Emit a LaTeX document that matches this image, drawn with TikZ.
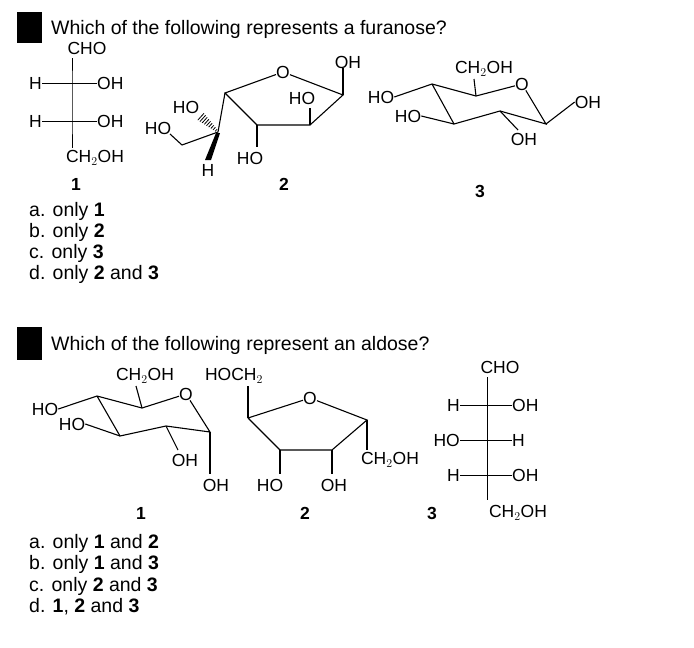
\documentclass[tikz,border=0pt]{standalone}
\usepackage{fontspec}
\setmainfont{Liberation Sans}
\usetikzlibrary{calc}
\begin{document}
\begin{tikzpicture}[x=1pt,y=-1pt,
  lab/.style={inner sep=0pt,font=\fontsize{17.5}{17.5}\selectfont},
  num/.style={inner sep=0pt,font=\fontsize{17.5}{17.5}\selectfont\bfseries},
  txt/.style={inner sep=0pt,anchor=west,font=\fontsize{19.5}{20}\selectfont},
  bond/.style={line width=1.1pt},
  fbond/.style={line width=1pt}]
\useasboundingbox (0,0) rectangle (694,648);
% ---------- Question 1 ----------
\fill (17,12) rectangle (42,43);
\node[txt] (q1) at (51,29) {Which of the following represents a furanose?};
% Fischer 1
\node[lab] (f1cho) at (87,48) {CHO};
\coordinate (f1a) at (72,83); \coordinate (f1b) at (72,121);
\node[lab,anchor=east] (f1h1) at (42,83) {H};
\node[lab,anchor=west] (f1oh1) at (97,83) {OH};
\node[lab,anchor=east] (f1h2) at (42,121) {H};
\node[lab,anchor=west] (f1oh2) at (97,121) {OH};
\node[lab] (f1ch) at (95,158) {CH$_2$OH};
\draw[fbond] (72,58) -- (f1a) -- (f1b) -- (72,148);
\draw[fbond] (f1h1.east) -- (f1oh1.west);
\draw[fbond] (f1h2.east) -- (f1oh2.west);
\node[num] (n11) at (76,184) {1};
% Furanose 2
\node[lab] (r2O) at (283,72) {O};
\coordinate (r2c4) at (225,93); \coordinate (r2c1) at (343,95);
\coordinate (r2c2) at (310,125); \coordinate (r2c3) at (257,125);
\coordinate (r2c5) at (218,132); \coordinate (r2c6) at (182,145);
\draw[bond] (r2O) -- (r2c4) -- (r2c3) -- (r2c2) -- (r2c1) -- (r2O);
\node[lab] (r2oh1) at (348,62) {OH};
\draw[bond] (r2c1) -- (r2oh1.south -| r2c1);
\node[lab] (r2ho2) at (302,98) {HO};
\draw[bond] (r2c2) -- (310,108);
\node[lab] (r2ho3) at (250,158) {HO};
\draw[bond] (r2c3) -- (257,147);
\draw[bond] (r2c4) -- (r2c5) -- (r2c6);
\node[lab] (r2ho4) at (186,107) {HO};
\node[lab] (r2ho5) at (158,128) {HO};
\draw[bond] (r2c6) -- (170,134);
\foreach \t in {0.1,0.2,...,0.95}
  \draw[line width=0.8pt] ($(218,132)!\t!(199,115)+({0.67*(1+4*\t)},{-0.74*(1+4*\t)})$) -- ($(218,132)!\t!(199,115)-({0.67*(1+4*\t)},{-0.74*(1+4*\t)})$);
\fill (216,133) -- (220,133) -- (211,160) -- (205,160) -- cycle;
\node[lab] (r2h) at (208,170) {H};
\node[num] (n12) at (284,184) {2};
% Pyranose 3
\coordinate (p3c4) at (432,84); \coordinate (p3c5) at (476,96);
\node[lab] (p3O) at (522,84) {O};
\coordinate (p3c1) at (546,124); \coordinate (p3c2) at (500,111); \coordinate (p3c3) at (454,124);
\draw[bond] (p3c4) -- (p3c5) -- (p3O) -- (p3c1) -- (p3c2) -- (p3c3) -- (p3c4);
\node[lab] (p3ch) at (484,69) {CH$_2$OH};
\draw[bond] (p3c5) -- (474,79);
\node[lab] (p3ho1) at (381,97) {HO};
\draw[bond] (p3c4) -- (p3ho1.east);
\node[lab] (p3ho2) at (408,116) {HO};
\draw[bond] (p3c3) -- (p3ho2.east);
\node[lab] (p3oh1) at (588,102) {OH};
\draw[bond] (p3c1) -- (p3oh1.west);
\node[lab] (p3oh2) at (524,139) {OH};
\draw[bond] (p3c2) -- (518,130);
\node[num] (n13) at (480,191) {3};
% answers 1
\node[txt] (a1) at (29,211) {a. only \textbf{1}};
\node[txt] (b1) at (29,232) {b. only \textbf{2}};
\node[txt] (c1) at (29,253) {c. only \textbf{3}};
\node[txt] (d1) at (29,274) {d. only \textbf{2} and \textbf{3}};
% ---------- Question 2 ----------
\fill (17,327) rectangle (42,360);
\node[txt] (q2) at (51,345) {Which of the following represent an aldose?};
% Pyranose 1
\coordinate (s1c4) at (97,396); \coordinate (s1c5) at (142,408);
\node[lab] (s1O) at (186,394) {O};
\coordinate (s1c1) at (210,432); \coordinate (s1c2) at (166,426); \coordinate (s1c3) at (120,436);
\draw[bond] (s1c4) -- (s1c5) -- (s1O) -- (s1c1) -- (s1c2) -- (s1c3) -- (s1c4);
\node[lab] (s1ch) at (145,376) {CH$_2$OH};
\draw[bond] (s1c5) -- (136,386);
\node[lab] (s1ho1) at (45,409) {HO};
\draw[bond] (s1c4) -- (s1ho1.east);
\node[lab] (s1ho2) at (72,424) {HO};
\draw[bond] (s1c3) -- (s1ho2.east);
\node[lab] (s1oh1) at (185,460) {OH};
\draw[bond] (s1c2) -- (178,450);
\node[lab] (s1oh2) at (216,485) {OH};
\draw[bond] (s1c1) -- (210,474);
\node[num] (n21) at (141,513) {1};
% Furanose 2
\node[lab] (s2hoch) at (234,376) {HOCH$_2$};
\coordinate (s2a) at (248,418); \node[lab] (s2O) at (310,398) {O};
\coordinate (s2b) at (367,420); \coordinate (s2c) at (332,450); \coordinate (s2d) at (280,450);
\draw[bond] (s2a) -- (s2O) -- (s2b) -- (s2c) -- (s2d) -- (s2a);
\draw[bond] (s2a) -- (248,386);
\node[lab] (s2ho) at (270,485) {HO};
\draw[bond] (s2d) -- (280,474);
\node[lab] (s2oh) at (334,485) {OH};
\draw[bond] (s2c) -- (332,474);
\node[lab] (s2ch) at (390,460) {CH$_2$OH};
\draw[bond] (s2b) -- (367,450);
\node[num] (n22) at (305,513) {2};
% Fischer 3
\node[lab] (f3cho) at (500,367) {CHO};
\node[lab,anchor=east] (f3h1) at (460,405) {H};
\node[lab,anchor=west] (f3oh1) at (512,405) {OH};
\node[lab,anchor=east] (f3ho) at (460,440) {HO};
\node[lab,anchor=west] (f3h2) at (512,440) {H};
\node[lab,anchor=east] (f3h3) at (460,475) {H};
\node[lab,anchor=west] (f3oh3) at (512,475) {OH};
\node[lab] (f3ch) at (518,513) {CH$_2$OH};
\draw[fbond] (487,377) -- (487,500);
\draw[fbond] (f3h1.east) -- (f3oh1.west);
\draw[fbond] (f3ho.east) -- (f3h2.west);
\draw[fbond] (f3h3.east) -- (f3oh3.west);
\node[num] (n23) at (432,513) {3};
% answers 2
\node[txt] (a2) at (29,543) {a. only \textbf{1} and \textbf{2}};
\node[txt] (b2) at (29,564) {b. only \textbf{1} and \textbf{3}};
\node[txt] (c2) at (29,586) {c. only \textbf{2} and \textbf{3}};
\node[txt] (d2) at (29,607) {d. \textbf{1}, \textbf{2} and \textbf{3}};
\end{tikzpicture}
\end{document}
